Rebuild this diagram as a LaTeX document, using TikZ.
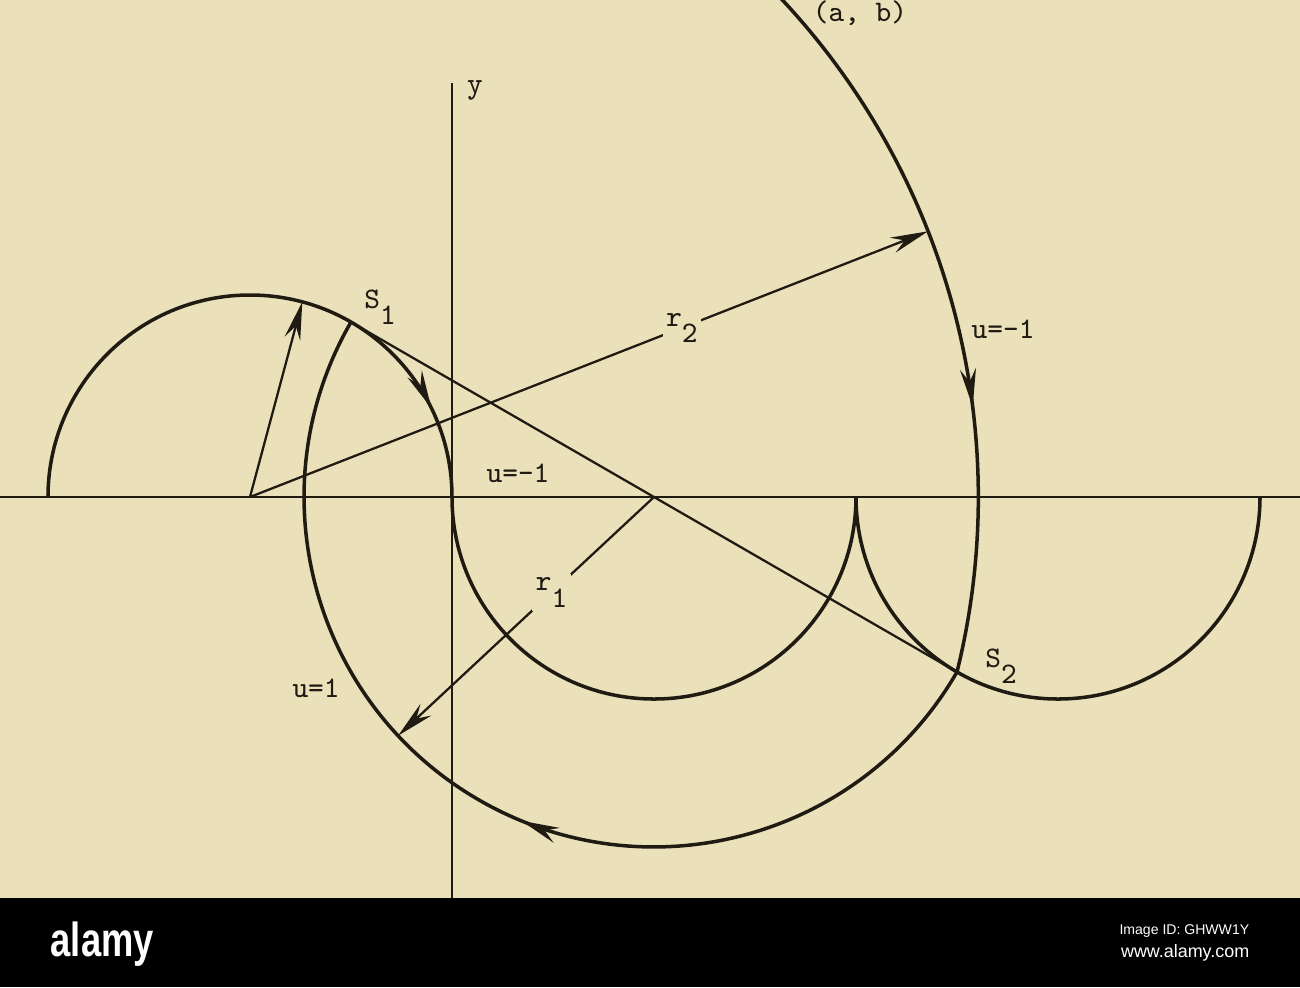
\documentclass[tikz,border=0pt]{standalone}
\usepackage{fontspec}
\setmainfont{Liberation Serif}
\newfontfamily\logofont{Liberation Sans}
\usetikzlibrary{arrows.meta,calc,decorations.markings}
\definecolor{paper}{RGB}{234,225,186}
\definecolor{ink}{RGB}{32,27,18}
\tikzset{
	curve/.style={draw=ink, line width=1pt},
	ray/.style={draw=ink, line width=0.65pt},
	tip/.style={-{Stealth[length=3.8mm, width=1.6mm, inset=1.3mm]}},
	flow/.style={postaction={decorate}, decoration={markings, mark=at position #1 with {\arrow{Stealth[length=3.8mm, width=1.6mm, inset=1.3mm]}}}},
	lbl/.style={font=\ttfamily\fontsize{8.5}{10}\selectfont, text=ink, inner sep=1pt},
	band/.style={text=white, inner sep=0pt}
}
\newcommand{\lowsub}[1]{\raisebox{-0.55em}{#1}}
\begin{document}
\begin{tikzpicture}[x=2.02cm, y=2.02cm, color=ink]
	\fill[paper] (-2.2376,-2.4257) rectangle (4.1980,2.4604);
	\useasboundingbox (-2.2376,-2.4257) rectangle (4.1980,2.4604);
	\clip (-2.2376,-2.4257) rectangle (4.1980,2.4604);
	\coordinate (O) at (0,0);
	\coordinate (L) at (-1,0);
	\coordinate (C) at (1,0);
	\coordinate (R) at (3,0);
	\coordinate (S1) at (-0.5,0.8660);
	\coordinate (S2) at (2.5,-0.8660);
	\coordinate (P) at ($(L)+(75:1)$);
	\coordinate (Q) at ($(L)+(21.4:3.6056)$);
	\coordinate (T) at ($(C)+(223:1.7321)$);
	\draw[ray] (-2.2376,0) -- (4.1980,0);
	\draw[ray] (0,-1.99) -- (0,2.0495);
	\draw[curve, flow=0.855] (L) ++(180:1) arc[start angle=180, end angle=0, radius=1];
	\draw[curve] (O) arc[start angle=180, end angle=360, radius=1];
	\draw[curve] (R) ++(180:1) arc[start angle=180, end angle=360, radius=1];
	\draw[curve, flow=0.457] (S2) arc[start angle=-30, end angle=-210, radius=1.7321];
	\draw[curve, flow=0.637] (L) ++(44:3.6056) arc[start angle=44, end angle=-13.898, radius=3.6056];
	\draw[ray] (S1) -- (S2);
	\draw[ray, tip] (L) -- (P);
	\draw[ray, tip] (L) -- (Q) node[lbl, pos=0.637, fill=paper] (r2) {r\lowsub{2}};
	\draw[ray, tip] (C) -- (T) node[lbl, pos=0.40, fill=paper] (r1) {r\lowsub{1}};
	\node[lbl] (ylab) at (0.114,2.015) {y};
	\node[lbl] (ab) at (2.020,2.396) {(a, b)};
	\node[lbl] (s1lab) at (-0.356,0.941) {S\lowsub{1}};
	\node[lbl] (s2lab) at (2.718,-0.837) {S\lowsub{2}};
	\node[lbl] (uright) at (2.728,0.832) {u=-1};
	\node[lbl] (uorigin) at (0.327,0.119) {u=-1};
	\node[lbl] (uone) at (-0.673,-0.946) {u=1};
	\fill[black] (-2.2376,-2.4257) rectangle (4.1980,-1.9851);
	\node[band, anchor=west, font=\logofont\bfseries\fontsize{13.6}{14}\selectfont] (logo) at (-1.990,-2.213) {\scalebox{0.76}[1]{alamy}};
	\node[band, anchor=east, font=\logofont\fontsize{4}{5}\selectfont] (imgid) at (3.950,-2.149) {Image ID: GHWW1Y};
	\node[band, anchor=east, font=\logofont\fontsize{5.1}{6}\selectfont] (site) at (3.950,-2.257) {www.alamy.com};
\end{tikzpicture}
\end{document}
